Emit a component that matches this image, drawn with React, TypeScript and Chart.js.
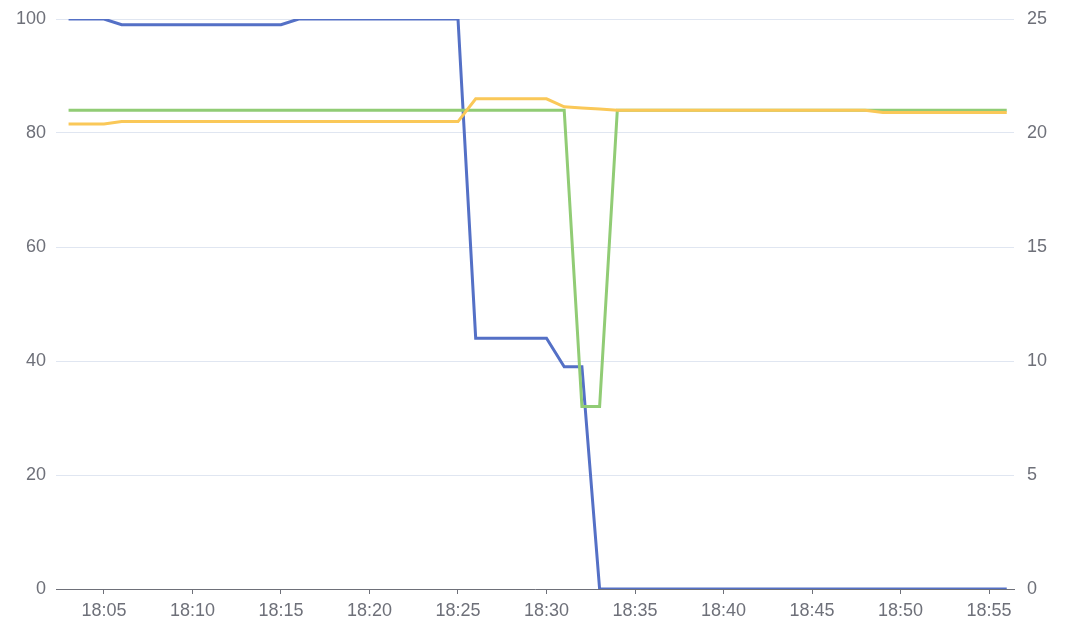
import React, { useEffect, useRef } from "react";
import { Chart, registerables } from "chart.js";

Chart.register(...registerables);

const TIMES = [
  "18:03", "18:04", "18:05", "18:06", "18:07", "18:08", "18:09", "18:10",
  "18:11", "18:12", "18:13", "18:14", "18:15", "18:16", "18:17", "18:18",
  "18:19", "18:20", "18:21", "18:22", "18:23", "18:24", "18:25", "18:26",
  "18:27", "18:28", "18:29", "18:30", "18:31", "18:32", "18:33", "18:34",
  "18:35", "18:36", "18:37", "18:38", "18:39", "18:40", "18:41", "18:42",
  "18:43", "18:44", "18:45", "18:46", "18:47", "18:48", "18:49", "18:50",
  "18:51", "18:52", "18:53", "18:54", "18:55", "18:56",
];

// Blue series (left axis)
const BLUE = [
  100, 100, 100, 99, 99, 99, 99, 99, 99, 99, 99, 99, 99, 100, 100, 100,
  100, 100, 100, 100, 100, 100, 100, 44, 44, 44, 44, 44, 39, 39, 0, 0,
  0, 0, 0, 0, 0, 0, 0, 0, 0, 0, 0, 0, 0, 0, 0, 0,
  0, 0, 0, 0, 0, 0,
];

// Green series (right axis)
const GREEN = [
  21, 21, 21, 21, 21, 21, 21, 21, 21, 21, 21, 21, 21, 21, 21, 21,
  21, 21, 21, 21, 21, 21, 21, 21, 21, 21, 21, 21, 21, 8, 8, 21,
  21, 21, 21, 21, 21, 21, 21, 21, 21, 21, 21, 21, 21, 21, 21, 21,
  21, 21, 21, 21, 21, 21,
];

// Yellow series (right axis)
const YELLOW = [
  20.4, 20.4, 20.4, 20.5, 20.5, 20.5, 20.5, 20.5, 20.5, 20.5, 20.5, 20.5, 20.5, 20.5, 20.5, 20.5,
  20.5, 20.5, 20.5, 20.5, 20.5, 20.5, 20.5, 21.5, 21.5, 21.5, 21.5, 21.5, 21.15, 21.1, 21.05, 21.0,
  21.0, 21.0, 21.0, 21.0, 21.0, 21.0, 21.0, 21.0, 21.0, 21.0, 21.0, 21.0, 21.0, 21.0, 20.9, 20.9,
  20.9, 20.9, 20.9, 20.9, 20.9, 20.9,
];

const X_TICKS = [
  "18:05", "18:10", "18:15", "18:20", "18:25", "18:30",
  "18:35", "18:40", "18:45", "18:50", "18:55",
];
const LEFT_TICKS = [0, 20, 40, 60, 80, 100];
const RIGHT_TICKS = [0, 5, 10, 15, 20, 25];

const toMin = (s: string) => {
  const [h, m] = s.split(":").map(Number);
  return h * 60 + m;
};

const LABEL_COLOR = "#6e7079";
const GRID_COLOR = "#e0e6f1";
const FONT = { family: "'Liberation Sans', Arial, sans-serif", size: 18 };

export default function App() {
  const ref = useRef<HTMLCanvasElement | null>(null);

  useEffect(() => {
    if (!ref.current) return;
    const pts = (arr: number[]) => arr.map((v, i) => ({ x: toMin(TIMES[i]), y: v }));
    const chart = new Chart(ref.current, {
      type: "line",
      data: {
        datasets: [
          {
            data: pts(BLUE),
            yAxisID: "y",
            borderColor: "#5470c6",
            borderWidth: 3,
            pointRadius: 0,
            tension: 0,
            order: 3,
          },
          {
            data: pts(GREEN),
            yAxisID: "y1",
            borderColor: "#91cc75",
            borderWidth: 3,
            pointRadius: 0,
            tension: 0,
            order: 2,
          },
          {
            data: pts(YELLOW),
            yAxisID: "y1",
            borderColor: "#fac858",
            borderWidth: 3,
            pointRadius: 0,
            tension: 0,
            order: 1,
          },
        ],
      },
      options: {
        responsive: false,
        animation: false,
        layout: { padding: { top: 19, left: 0, right: 0, bottom: 0 } },
        plugins: { legend: { display: false }, tooltip: { enabled: false } },
        scales: {
          x: {
            type: "linear",
            min: toMin(TIMES[0]) - 0.71,
            max: toMin(TIMES[TIMES.length - 1]) + 0.41,
            afterBuildTicks: (scale: any) => {
              scale.ticks = X_TICKS.map((t) => ({ value: toMin(t) }));
            },
            afterFit: (scale: any) => {
              scale.height = 37;
              scale.paddingLeft = 0;
              scale.paddingRight = 0;
            },
            ticks: {
              autoSkip: false,
              maxRotation: 0,
              color: LABEL_COLOR,
              font: FONT,
              padding: 6,
              callback: (_v: any, i: number) => X_TICKS[i],
            },
            grid: {
              drawOnChartArea: false,
              drawTicks: true,
              tickLength: 5,
              color: LABEL_COLOR,
            },
            border: { display: true, color: LABEL_COLOR, width: 1 },
          },
          y: {
            type: "linear",
            position: "left",
            min: 0,
            max: 100,
            afterBuildTicks: (scale: any) => {
              scale.ticks = LEFT_TICKS.map((v) => ({ value: v }));
            },
            afterFit: (scale: any) => {
              scale.width = 56;
              scale.paddingTop = 0;
              scale.paddingBottom = 0;
            },
            ticks: {
              color: LABEL_COLOR,
              font: FONT,
              padding: 10,
              callback: (_v: any, i: number) => String(LEFT_TICKS[i]),
            },
            grid: { color: GRID_COLOR, drawTicks: false, lineWidth: 1 },
            border: { display: false },
          },
          y1: {
            type: "linear",
            position: "right",
            min: 0,
            max: 25,
            afterBuildTicks: (scale: any) => {
              scale.ticks = RIGHT_TICKS.map((v) => ({ value: v }));
            },
            afterFit: (scale: any) => {
              scale.width = 52;
              scale.paddingTop = 0;
              scale.paddingBottom = 0;
            },
            ticks: {
              color: LABEL_COLOR,
              font: FONT,
              padding: 13,
              callback: (_v: any, i: number) => String(RIGHT_TICKS[i]),
            },
            grid: { display: false, drawOnChartArea: false, drawTicks: false },
            border: { display: false },
          },
        },
      },
    } as any);
    return () => chart.destroy();
  }, []);

  return (
    <div style={{ position: "fixed", left: 0, top: 0, width: 1066, height: 626, background: "#fff" }}>
      <canvas ref={ref} width={1066} height={626} style={{ display: "block" }} />
    </div>
  );
}
